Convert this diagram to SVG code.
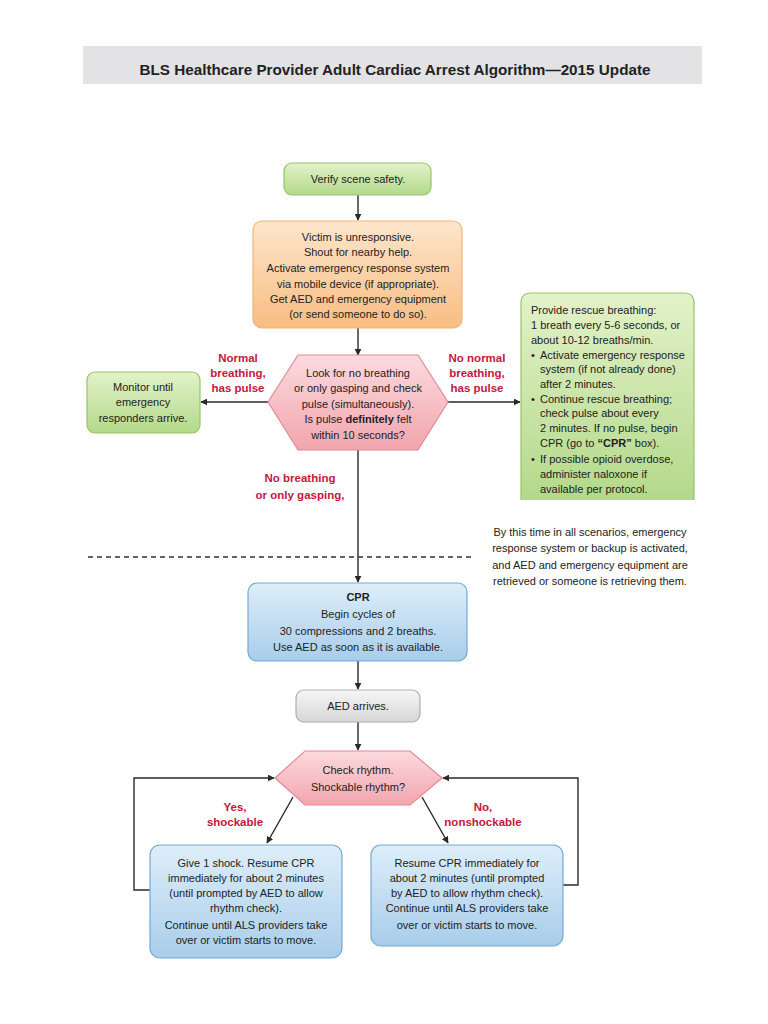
<svg xmlns="http://www.w3.org/2000/svg" width="768" height="1024" viewBox="0 0 768 1024">
<defs>
<linearGradient id="gGreen" x1="0" y1="0" x2="0" y2="1"><stop offset="0" stop-color="#e3f2c9"/><stop offset="1" stop-color="#b3d98a"/></linearGradient>
<linearGradient id="gOrange" x1="0" y1="0" x2="0" y2="1"><stop offset="0" stop-color="#fde6cc"/><stop offset="1" stop-color="#f8bd82"/></linearGradient>
<linearGradient id="gPink" x1="0" y1="0" x2="0" y2="1"><stop offset="0" stop-color="#fcdade"/><stop offset="1" stop-color="#f2a5ae"/></linearGradient>
<linearGradient id="gBlue" x1="0" y1="0" x2="0" y2="1"><stop offset="0" stop-color="#deeefa"/><stop offset="1" stop-color="#a8cdea"/></linearGradient>
<linearGradient id="gGray" x1="0" y1="0" x2="0" y2="1"><stop offset="0" stop-color="#f6f6f6"/><stop offset="1" stop-color="#d6d6d6"/></linearGradient>
<marker id="ah" viewBox="0 0 10 10" refX="9" refY="5" markerWidth="7" markerHeight="7" orient="auto" markerUnits="userSpaceOnUse"><path d="M0,0 L10,5 L0,10 z" fill="#2a2a2a"/></marker>
</defs>
<style>
text{font-family:"Liberation Sans",Arial,sans-serif;font-size:11px;fill:#222;}
.c{text-anchor:middle;}
.lbl{font-weight:bold;fill:#c5173f;font-size:11.5px;text-anchor:middle;}
.b{font-weight:bold;}
.conn{fill:none;stroke:#2a2a2a;stroke-width:1.4;}
.green{fill:url(#gGreen);stroke:#97c46b;stroke-width:1.2;}
.orange{fill:url(#gOrange);stroke:#efb477;stroke-width:1.2;}
.pink{fill:url(#gPink);stroke:#e38a96;stroke-width:1.2;}
.blue{fill:url(#gBlue);stroke:#78a8d0;stroke-width:1.2;}
.gray{fill:url(#gGray);stroke:#aeaeae;stroke-width:1.2;}
</style>
<rect width="768" height="1024" fill="#ffffff"/>
<g id="title">
<rect x="83" y="46" width="619" height="38" fill="#e3e3e5"/>
<text x="395" y="75" class="c b" style="font-size:14.5px" textLength="511" lengthAdjust="spacingAndGlyphs">BLS Healthcare Provider Adult Cardiac Arrest Algorithm—2015 Update</text>
</g>
<g id="connectors">
<line class="conn" x1="358" y1="195" x2="358" y2="220" marker-end="url(#ah)"/>
<line class="conn" x1="358" y1="328" x2="358" y2="355" marker-end="url(#ah)"/>
<line class="conn" x1="268" y1="402" x2="201" y2="402" marker-end="url(#ah)"/>
<line class="conn" x1="448" y1="402" x2="520" y2="402" marker-end="url(#ah)"/>
<line class="conn" x1="358" y1="450" x2="358" y2="582" marker-end="url(#ah)"/>
<line x1="88" y1="557" x2="472" y2="557" stroke="#333" stroke-width="1.4" stroke-dasharray="5,4"/>
<line class="conn" x1="358" y1="661" x2="358" y2="689" marker-end="url(#ah)"/>
<line class="conn" x1="358" y1="722" x2="358" y2="750" marker-end="url(#ah)"/>
<line class="conn" x1="293" y1="797" x2="267" y2="843" marker-end="url(#ah)"/>
<line class="conn" x1="422" y1="797" x2="448" y2="843" marker-end="url(#ah)"/>
<polyline class="conn" points="150,890 134,890 134,778 274,778" marker-end="url(#ah)"/>
<polyline class="conn" points="563,885 578,885 578,778 443,778" marker-end="url(#ah)"/>
</g>
<g id="verify">
<rect class="green" x="284" y="163" width="147" height="32" rx="8"/>
<text x="358" y="183" class="c">Verify scene safety.</text>
</g>
<g id="unresponsive">
<rect class="orange" x="253" y="221" width="209" height="107" rx="9"/>
<text x="358" y="241" class="c">Victim is unresponsive.</text>
<text x="358" y="256" class="c">Shout for nearby help.</text>
<text x="358" y="272" class="c">Activate emergency response system</text>
<text x="358" y="288" class="c">via mobile device (if appropriate).</text>
<text x="358" y="303" class="c">Get AED and emergency equipment</text>
<text x="358" y="318" class="c">(or send someone to do so).</text>
</g>
<g id="check-breathing">
<polygon class="pink" points="268,402 298,355 418,355 448,402 418,450 298,450"/>
<text x="358" y="377" class="c">Look for no breathing</text>
<text x="358" y="392" class="c">or only gasping and check</text>
<text x="358" y="408" class="c">pulse (simultaneously).</text>
<text x="358" y="423" class="c">Is pulse <tspan class="b">definitely</tspan> felt</text>
<text x="358" y="439" class="c">within 10 seconds?</text>
</g>
<g id="monitor">
<rect class="green" x="87" y="372" width="113" height="61" rx="8"/>
<text x="143" y="391" class="c">Monitor until</text>
<text x="143" y="406" class="c">emergency</text>
<text x="143" y="422" class="c">responders arrive.</text>
</g>
<g id="rescue-breathing">
<path d="M521,500 V303 Q521,293 531,293 H684 Q694,293 694,303 V500 Z" fill="url(#gGreen)"/>
<path d="M521,500 V303 Q521,293 531,293 H684 Q694,293 694,303 V500" fill="none" stroke="#97c46b" stroke-width="1.2"/>
<text x="531" y="314">Provide rescue breathing:</text>
<text x="531" y="329">1 breath every 5-6 seconds, or</text>
<text x="531" y="344">about 10-12 breaths/min.</text>
<text x="531" y="359">•</text><text x="540" y="359">Activate emergency response</text>
<text x="540" y="373">system (if not already done)</text>
<text x="540" y="388">after 2 minutes.</text>
<text x="531" y="403">•</text><text x="540" y="403">Continue rescue breathing;</text>
<text x="540" y="417">check pulse about every</text>
<text x="540" y="432">2 minutes. If no pulse, begin</text>
<text x="540" y="447">CPR (go to <tspan class="b">“CPR”</tspan> box).</text>
<text x="531" y="463">•</text><text x="540" y="463">If possible opioid overdose,</text>
<text x="540" y="478">administer naloxone if</text>
<text x="540" y="493">available per protocol.</text>
</g>
<g id="labels-top">
<text x="238" y="362" class="lbl">Normal</text>
<text x="238" y="377" class="lbl">breathing,</text>
<text x="238" y="392" class="lbl">has pulse</text>
<text x="477" y="362" class="lbl">No normal</text>
<text x="477" y="377" class="lbl">breathing,</text>
<text x="477" y="392" class="lbl">has pulse</text>
<text x="300" y="482" class="lbl">No breathing</text>
<text x="300" y="499" class="lbl">or only gasping,</text>
</g>
<g id="note">
<text x="590" y="536" class="c">By this time in all scenarios, emergency</text>
<text x="590" y="552" class="c">response system or backup is activated,</text>
<text x="590" y="569" class="c">and AED and emergency equipment are</text>
<text x="590" y="585" class="c">retrieved or someone is retrieving them.</text>
</g>
<g id="cpr">
<rect class="blue" x="248" y="583" width="219" height="78" rx="9"/>
<text x="358" y="601" class="c b">CPR</text>
<text x="358" y="618" class="c">Begin cycles of</text>
<text x="358" y="635" class="c">30 compressions and 2 breaths.</text>
<text x="358" y="651" class="c">Use AED as soon as it is available.</text>
</g>
<g id="aed">
<rect class="gray" x="296" y="690" width="124" height="32" rx="8"/>
<text x="358" y="710" class="c">AED arrives.</text>
</g>
<g id="check-rhythm">
<polygon class="pink" points="275,778 305,751 410,751 442,778 410,805 305,805"/>
<text x="358" y="774" class="c">Check rhythm.</text>
<text x="358" y="791" class="c">Shockable rhythm?</text>
</g>
<g id="labels-bottom">
<text x="235" y="811" class="lbl">Yes,</text>
<text x="235" y="826" class="lbl">shockable</text>
<text x="483" y="811" class="lbl">No,</text>
<text x="483" y="826" class="lbl">nonshockable</text>
</g>
<g id="shock">
<rect class="blue" x="150" y="845" width="192" height="113" rx="10"/>
<text x="246" y="867" class="c">Give 1 shock. Resume CPR</text>
<text x="246" y="882" class="c">immediately for about 2 minutes</text>
<text x="246" y="897" class="c">(until prompted by AED to allow</text>
<text x="246" y="912" class="c">rhythm check).</text>
<text x="246" y="929" class="c">Continue until ALS providers take</text>
<text x="246" y="944" class="c">over or victim starts to move.</text>
</g>
<g id="noshock">
<rect class="blue" x="371" y="845" width="192" height="101" rx="10"/>
<text x="467" y="867" class="c">Resume CPR immediately for</text>
<text x="467" y="882" class="c">about 2 minutes (until prompted</text>
<text x="467" y="897" class="c">by AED to allow rhythm check).</text>
<text x="467" y="912" class="c">Continue until ALS providers take</text>
<text x="467" y="929" class="c">over or victim starts to move.</text>
</g>
</svg>
